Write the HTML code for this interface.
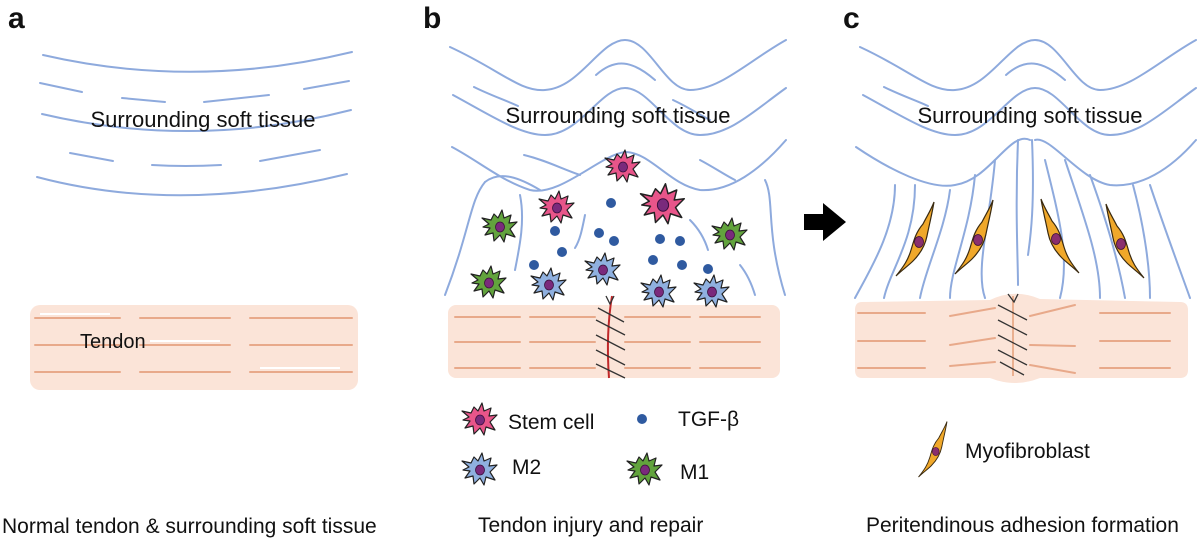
<!DOCTYPE html>
<html><head><meta charset="utf-8"><style>
body{margin:0;background:#fff;width:1200px;height:540px;overflow:hidden}
svg{display:block}
text{font-family:"Liberation Sans",Arial,sans-serif;fill:#111}
</style></head><body>
<svg width="1200" height="540" viewBox="0 0 1200 540">
<defs>
<g id="cell">
<path d="M-11,-3 L-18,-9 L-9,-7 L-6,-13 L-2,-9 L2,-17 L4,-9 L11,-12 L9,-4 L17,-5 L10,2 L15,10 L6,7 L4,15 L0,8 L-6,14 L-7,6 L-15,8 L-10,1 L-17,0 Z" stroke="#222" stroke-width="1.2" stroke-linejoin="round"/>
<ellipse cx="0" cy="0" rx="4.5" ry="5" fill="#7a2a7c" stroke="#3a0f3c" stroke-width="0.8"/>
</g>
<g id="myo">
<path d="M-22,36 C-14,26 -10,20 -7,10 C-4,0 -2,-8 5,-16 C9,-24 13,-30 16,-38 C14,-26 11,-14 9,-4 C7,6 2,14 -5,21 C-10,26 -16,30 -22,36 Z" fill="#f0a82a" stroke="#3a2a10" stroke-width="1.2"/>
<ellipse cx="1" cy="2" rx="4.5" ry="5.5" fill="#8a2f6e" stroke="#3a0f3c" stroke-width="0.8"/>
</g>
</defs>

<text x="8" y="28" font-size="30" font-weight="bold">a</text>
<text x="423" y="28" font-size="30" font-weight="bold">b</text>
<text x="843" y="28" font-size="30" font-weight="bold">c</text>

<!-- Panel a -->
<g fill="none" stroke="#8eaadd" stroke-width="2" stroke-linecap="round">
<path d="M43,55 Q195,90 352,52"/>
<path d="M40,83 L82,92"/><path d="M122,98 L165,102"/><path d="M204,102 L269,95"/><path d="M304,89 L349,81"/>
<path d="M42,114 Q195,150 351,110"/>
<path d="M70,153 L113,161"/><path d="M152,165 Q185,167 221,165"/><path d="M260,161 L320,150"/>
<path d="M37,177 Q180,215 347,174"/>
</g>
<text x="203" y="127" font-size="22" text-anchor="middle">Surrounding soft tissue</text>

<rect x="30" y="305" width="328" height="85" rx="10" fill="#fbe4d8"/>
<g stroke="#e8a98a" stroke-width="2" fill="none" stroke-linecap="round">
<path d="M35,318 H120 M140,318 H230 M250,318 H352"/>
<path d="M35,345 H120 M140,345 H230 M250,345 H352"/>
<path d="M35,372 H120 M140,372 H230 M250,372 H352"/>
</g>
<g stroke="#fff" stroke-width="2" fill="none"><path d="M40,314 H110 M150,341 H220 M260,368 H340"/></g>
<text x="80" y="348" font-size="20">Tendon</text>

<!-- Panel b -->
<g fill="none" stroke="#8eaadd" stroke-width="2" stroke-linecap="round">
<path d="M450,47 C500,70 520,92 545,90 C580,88 600,40 625,40 C650,40 665,90 690,90 C720,90 750,60 786,40"/>
<path d="M474,87 C490,95 505,100 518,106"/>
<path d="M596,75 C615,58 632,60 655,80"/>
<path d="M453,95 C490,115 520,135 545,135 C580,135 600,88 625,88 C650,88 670,135 700,135 C730,135 755,110 786,88"/>
<path d="M673,100 C690,108 700,115 710,120"/>
<path d="M452,147 C480,162 500,180 530,190 C560,197 600,155 625,152 C650,152 670,185 700,190 C730,192 760,170 786,140"/>
<path d="M524,155 C545,160 560,168 580,175"/>
<path d="M700,160 C715,168 725,175 735,180"/>
<path d="M485,182 C470,200 470,230 445,295"/>
<path d="M485,182 C500,170 520,178 540,190"/>
<path d="M520,195 C525,220 520,245 515,270"/>
<path d="M585,215 C582,230 580,240 575,248"/>
<path d="M765,180 C775,200 765,230 785,295"/>
<path d="M690,220 C700,230 705,240 708,250"/>
<path d="M740,265 C748,275 752,285 755,295"/>
</g>
<text x="618" y="123" font-size="22" text-anchor="middle">Surrounding soft tissue</text>

<rect x="448" y="305" width="332" height="73" rx="8" fill="#fbe4d8"/>
<g stroke="#e8a98a" stroke-width="2" fill="none" stroke-linecap="round">
<path d="M455,317 H520 M530,317 H595 M625,317 H690 M700,317 H760"/>
<path d="M455,342 H520 M530,342 H595 M625,342 H690 M700,342 H760"/>
<path d="M455,368 H520 M530,368 H595 M625,368 H690 M700,368 H760"/>
</g>
<path d="M612,296 C608,320 607,350 609,378" stroke="#c0282a" stroke-width="2" fill="none"/>
<g stroke="#333" stroke-width="1.3" fill="none">
<path d="M596,320 L625,335 M596,335 L625,350 M596,350 L625,365 M596,364 L625,378 M598,308 L624,322"/>
<path d="M606,296 L610,304 L614,296"/>
</g>

<use href="#cell" x="623" y="167" fill="#e8558a"/>
<use href="#cell" x="557" y="208" fill="#e8558a"/>
<use href="#cell" x="663" y="205" fill="#e8558a" transform="translate(663,205) scale(1.25) translate(-663,-205)"/>
<use href="#cell" x="500" y="227" fill="#62a33d"/>
<use href="#cell" x="730" y="235" fill="#62a33d"/>
<use href="#cell" x="489" y="283" fill="#62a33d"/>
<use href="#cell" x="549" y="285" fill="#8fb0df"/>
<use href="#cell" x="603" y="270" fill="#8fb0df"/>
<use href="#cell" x="659" y="292" fill="#8fb0df"/>
<use href="#cell" x="712" y="292" fill="#8fb0df"/>
<g fill="#2f5aa0">
<circle cx="611" cy="203" r="5"/><circle cx="555" cy="231" r="5"/><circle cx="599" cy="233" r="5"/><circle cx="614" cy="241" r="5"/>
<circle cx="660" cy="239" r="5"/><circle cx="680" cy="241" r="5"/><circle cx="562" cy="252" r="5"/><circle cx="534" cy="265" r="5"/>
<circle cx="653" cy="260" r="5"/><circle cx="682" cy="265" r="5"/><circle cx="708" cy="269" r="5"/>
</g>

<use href="#cell" x="480" y="420" fill="#e8558a"/>
<text x="508" y="429" font-size="21">Stem cell</text>
<circle cx="642" cy="419" r="5" fill="#2f5aa0"/>
<text x="678" y="426" font-size="21">TGF-β</text>
<use href="#cell" x="480" y="470" fill="#8fb0df"/>
<text x="512" y="474" font-size="21">M2</text>
<use href="#cell" x="645" y="470" fill="#62a33d"/>
<text x="680" y="479" font-size="21">M1</text>

<path d="M804,214 H823 V203 L846,222 L823,241 V230 H804 Z" fill="#000"/>

<!-- Panel c -->
<g fill="none" stroke="#8eaadd" stroke-width="2" stroke-linecap="round">
<path d="M860,47 C910,70 930,92 955,90 C990,88 1010,40 1035,40 C1060,40 1075,90 1100,90 C1130,90 1160,60 1196,40"/>
<path d="M884,87 C900,95 915,100 928,106"/>
<path d="M1006,75 C1025,58 1042,60 1065,80"/>
<path d="M863,95 C900,115 930,135 955,135 C990,135 1010,88 1035,88 C1060,88 1080,135 1110,135 C1140,135 1165,110 1196,88"/>
<path d="M856,147 C890,170 930,190 955,185 C990,180 1010,130 1030,140"/>
<path d="M1035,140 C1050,135 1080,180 1110,185 C1140,188 1170,170 1196,140"/>
<path d="M895,185 C895,230 870,270 855,298"/>
<path d="M915,185 C915,240 890,270 884,298"/>
<path d="M950,190 C945,230 925,270 920,298"/>
<path d="M975,175 C970,230 950,270 950,298"/>
<path d="M995,160 C990,220 975,270 985,298"/>
<path d="M1018,140 C1015,210 1018,260 1018,285"/>
<path d="M1032,140 C1035,210 1030,240 1028,255"/>
<path d="M1045,160 C1060,220 1070,260 1060,298"/>
<path d="M1065,160 C1085,220 1100,260 1100,298"/>
<path d="M1090,175 C1110,230 1120,270 1125,298"/>
<path d="M1133,185 C1145,230 1150,270 1150,298"/>
<path d="M1150,185 C1165,230 1180,270 1190,298"/>
</g>
<text x="1030" y="123" font-size="22" text-anchor="middle">Surrounding soft tissue</text>
<use href="#myo" x="918" y="240"/>
<use href="#myo" x="977" y="238"/>
<use href="#myo" x="1057" y="237" transform="translate(2114,0) scale(-1,1)"/>
<use href="#myo" x="1122" y="242" transform="translate(2244,0) scale(-1,1)"/>

<path d="M862,302 L990,300 Q1015,288 1040,299 L1180,302 Q1188,302 1188,310 V370 Q1188,378 1180,378 L1040,378 Q1015,388 990,378 L862,378 Q855,378 855,370 V310 Q855,302 862,302 Z" fill="#fbe4d8"/>
<g stroke="#e8a98a" stroke-width="2" fill="none" stroke-linecap="round">
<path d="M858,313 H925 M950,316 L995,308 M1030,316 L1075,305 M1100,313 H1170"/>
<path d="M858,341 H925 M950,345 L995,338 M1030,345 L1075,346 M1100,341 H1170"/>
<path d="M858,368 H925 M950,366 L995,362 M1030,365 L1075,373 M1100,368 H1170"/>
</g>
<path d="M1013,296 V376" stroke="#eab090" stroke-width="2"/>
<g stroke="#333" stroke-width="1.3" fill="none">
<path d="M998,305 L1027,320 M998,320 L1027,335 M998,335 L1027,350 M998,350 L1027,365 M1000,362 L1024,375"/>
<path d="M1008,294 L1014,302 L1018,294"/>
</g>

<use href="#myo" x="935" y="450" transform="translate(935,450) scale(0.75) translate(-935,-450)"/>
<text x="965" y="458" font-size="21">Myofibroblast</text>

<text x="2" y="533" font-size="21">Normal tendon &amp; surrounding soft tissue</text>
<text x="478" y="532" font-size="21">Tendon injury and repair</text>
<text x="866" y="532" font-size="21">Peritendinous adhesion formation</text>
</svg>
</body></html>
